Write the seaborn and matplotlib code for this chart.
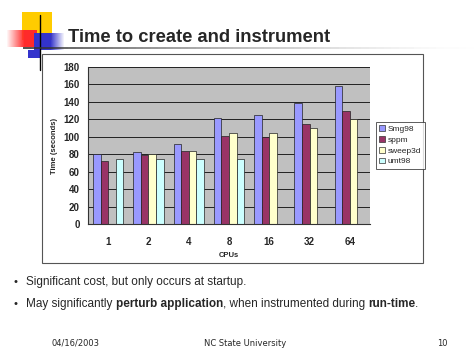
import numpy as np
import pandas as pd
import matplotlib.pyplot as plt
import seaborn as sns

cpus = ["1", "2", "4", "8", "16", "32", "64"]
smg98 = [80, 82, 92, 121, 125, 139, 158]
sppm = [72, 79, 84, 101, 100, 115, 130]
sweep3d = [np.nan, 80, 84, 104, 104, 110, 120]
umt98 = [75, 75, 75, 75, np.nan, np.nan, np.nan]
codes = ["Smg98", "sppm", "sweep3d", "umt98"]
colors = ["#9999FF", "#993366", "#FFFFCC", "#CCFFFF"]

df = pd.DataFrame({"CPUs": cpus, "Smg98": smg98, "sppm": sppm,
                   "sweep3d": sweep3d, "umt98": umt98})
long = df.melt(id_vars="CPUs", var_name="code", value_name="time")

sns.set_style("white")
plt.rcParams["font.family"] = ["Liberation Sans", "DejaVu Sans"]

W, H = 474, 355
fig = plt.figure(figsize=(W / 100, H / 100), dpi=100)

def fx(px):
    return px / W

def fy(py):
    return 1 - py / H

# slide decoration (top left squares)
deco = fig.add_axes([0, 0, 1, 1], zorder=-5)
deco.axis("off")
deco.add_patch(plt.Rectangle((22, 12), 30, 28, color="#FFCC00", lw=0))
# red block fading to the left
for i in range(30):
    a = min(1.0, (i + 1) / 18)
    deco.add_patch(plt.Rectangle((7 + i, 30), 1.05, 17, color="#FF2A2A",
                                 alpha=a, lw=0))
# blue block fading to the right
for i in range(30):
    a = min(1.0, (30 - i) / 14)
    deco.add_patch(plt.Rectangle((34 + i, 33), 1.05, 17, color="#3333CC",
                                 alpha=a, lw=0))
deco.add_patch(plt.Rectangle((28, 50), 12, 8, color="#3333CC", lw=0))
deco.plot([40, 40], [15, 70], color="black", lw=1)
# fading rule under title
n = 60
xs = np.linspace(23, 474, n + 1)
for i in range(n):
    deco.plot(xs[i:i + 2], [48, 48], color="#333333", lw=1.2,
              alpha=max(0.0, 1 - i / n) ** 1.5, solid_capstyle="butt")
# chart frame
deco.add_patch(plt.Rectangle((42, 54), 381, 209, fill=False, ec="#555555", lw=0.8))
deco.set_xlim(0, W)
deco.set_ylim(H, 0)

fig.text(fx(68), fy(42), "Time to create and instrument", fontsize=13.2,
         fontweight="bold", ha="left", va="baseline")

ax = fig.add_axes([fx(88), fy(224), fx(370 - 88), (224 - 67) / H])
sns.barplot(data=long, x="CPUs", y="time", hue="code", hue_order=codes,
            palette=colors, width=0.75, edgecolor="#222222", linewidth=0.5,
            saturation=1, ax=ax)
ax.set_facecolor("#C0C0C0")
ax.set_ylim(0, 180)
ax.set_yticks(range(0, 181, 20))
ax.yaxis.grid(True, color="#222222", lw=0.7)
ax.set_axisbelow(True)
ax.set_xlim(-0.5, 6.5)
ax.set_xticks(np.arange(-0.5, 7, 1), minor=True)
ax.tick_params(axis="x", which="major", length=0, pad=9, labelsize=7)
ax.tick_params(axis="x", which="minor", length=3, color="#333333", width=0.7)
ax.tick_params(axis="y", length=3, color="#333333", width=0.7, labelsize=7, pad=3)
for lab in ax.get_xticklabels() + ax.get_yticklabels():
    lab.set_fontweight("bold")
for s in ["top", "right"]:
    ax.spines[s].set_visible(False)
ax.spines["left"].set_color("#333333")
ax.spines["bottom"].set_color("#333333")
ax.set_xlabel("CPUs", fontsize=5.5, fontweight="bold", labelpad=4)
ax.set_ylabel("Time (seconds)", fontsize=5.5, fontweight="bold", labelpad=4)
ax.legend_.remove()
handles = [plt.Rectangle((0, 0), 1, 1, fc=c, ec="#333333", lw=0.5) for c in colors]
leg = fig.legend(handles, codes, loc="upper left",
                 bbox_to_anchor=(fx(376), fy(122)), fontsize=6,
                 frameon=True, fancybox=False, handlelength=0.7,
                 handleheight=0.7, handletextpad=0.3, borderpad=0.4,
                 labelspacing=0.35, borderaxespad=0)
leg.get_frame().set_edgecolor("#333333")
leg.get_frame().set_linewidth(0.7)

# bullets with mixed bold text
fig.canvas.draw()
renderer = fig.canvas.get_renderer()

def rich(x, y, parts, size=8.5):
    for txt, bold in parts:
        t = fig.text(fx(x), fy(y), txt, fontsize=size,
                     fontweight="bold" if bold else "normal", va="baseline")
        bb = t.get_window_extent(renderer)
        x += bb.width

fig.text(fx(14), fy(285), "•", fontsize=8, va="baseline")
rich(26, 285, [("Significant cost, but only occurs at startup.", False)])
fig.text(fx(14), fy(307), "•", fontsize=8, va="baseline")
rich(26, 307, [("May significantly ", False), ("perturb application", True),
               (", when instrumented during ", False), ("run-time", True),
               (".", False)])

fig.text(fx(52), fy(346), "04/16/2003", fontsize=6, family="DejaVu Sans", va="baseline")
fig.text(fx(245), fy(346), "NC State University", fontsize=6, family="DejaVu Sans",
         ha="center", va="baseline")
fig.text(fx(437), fy(346), "10", fontsize=6, family="DejaVu Sans", va="baseline")

fig.savefig("out.png", dpi=100)
